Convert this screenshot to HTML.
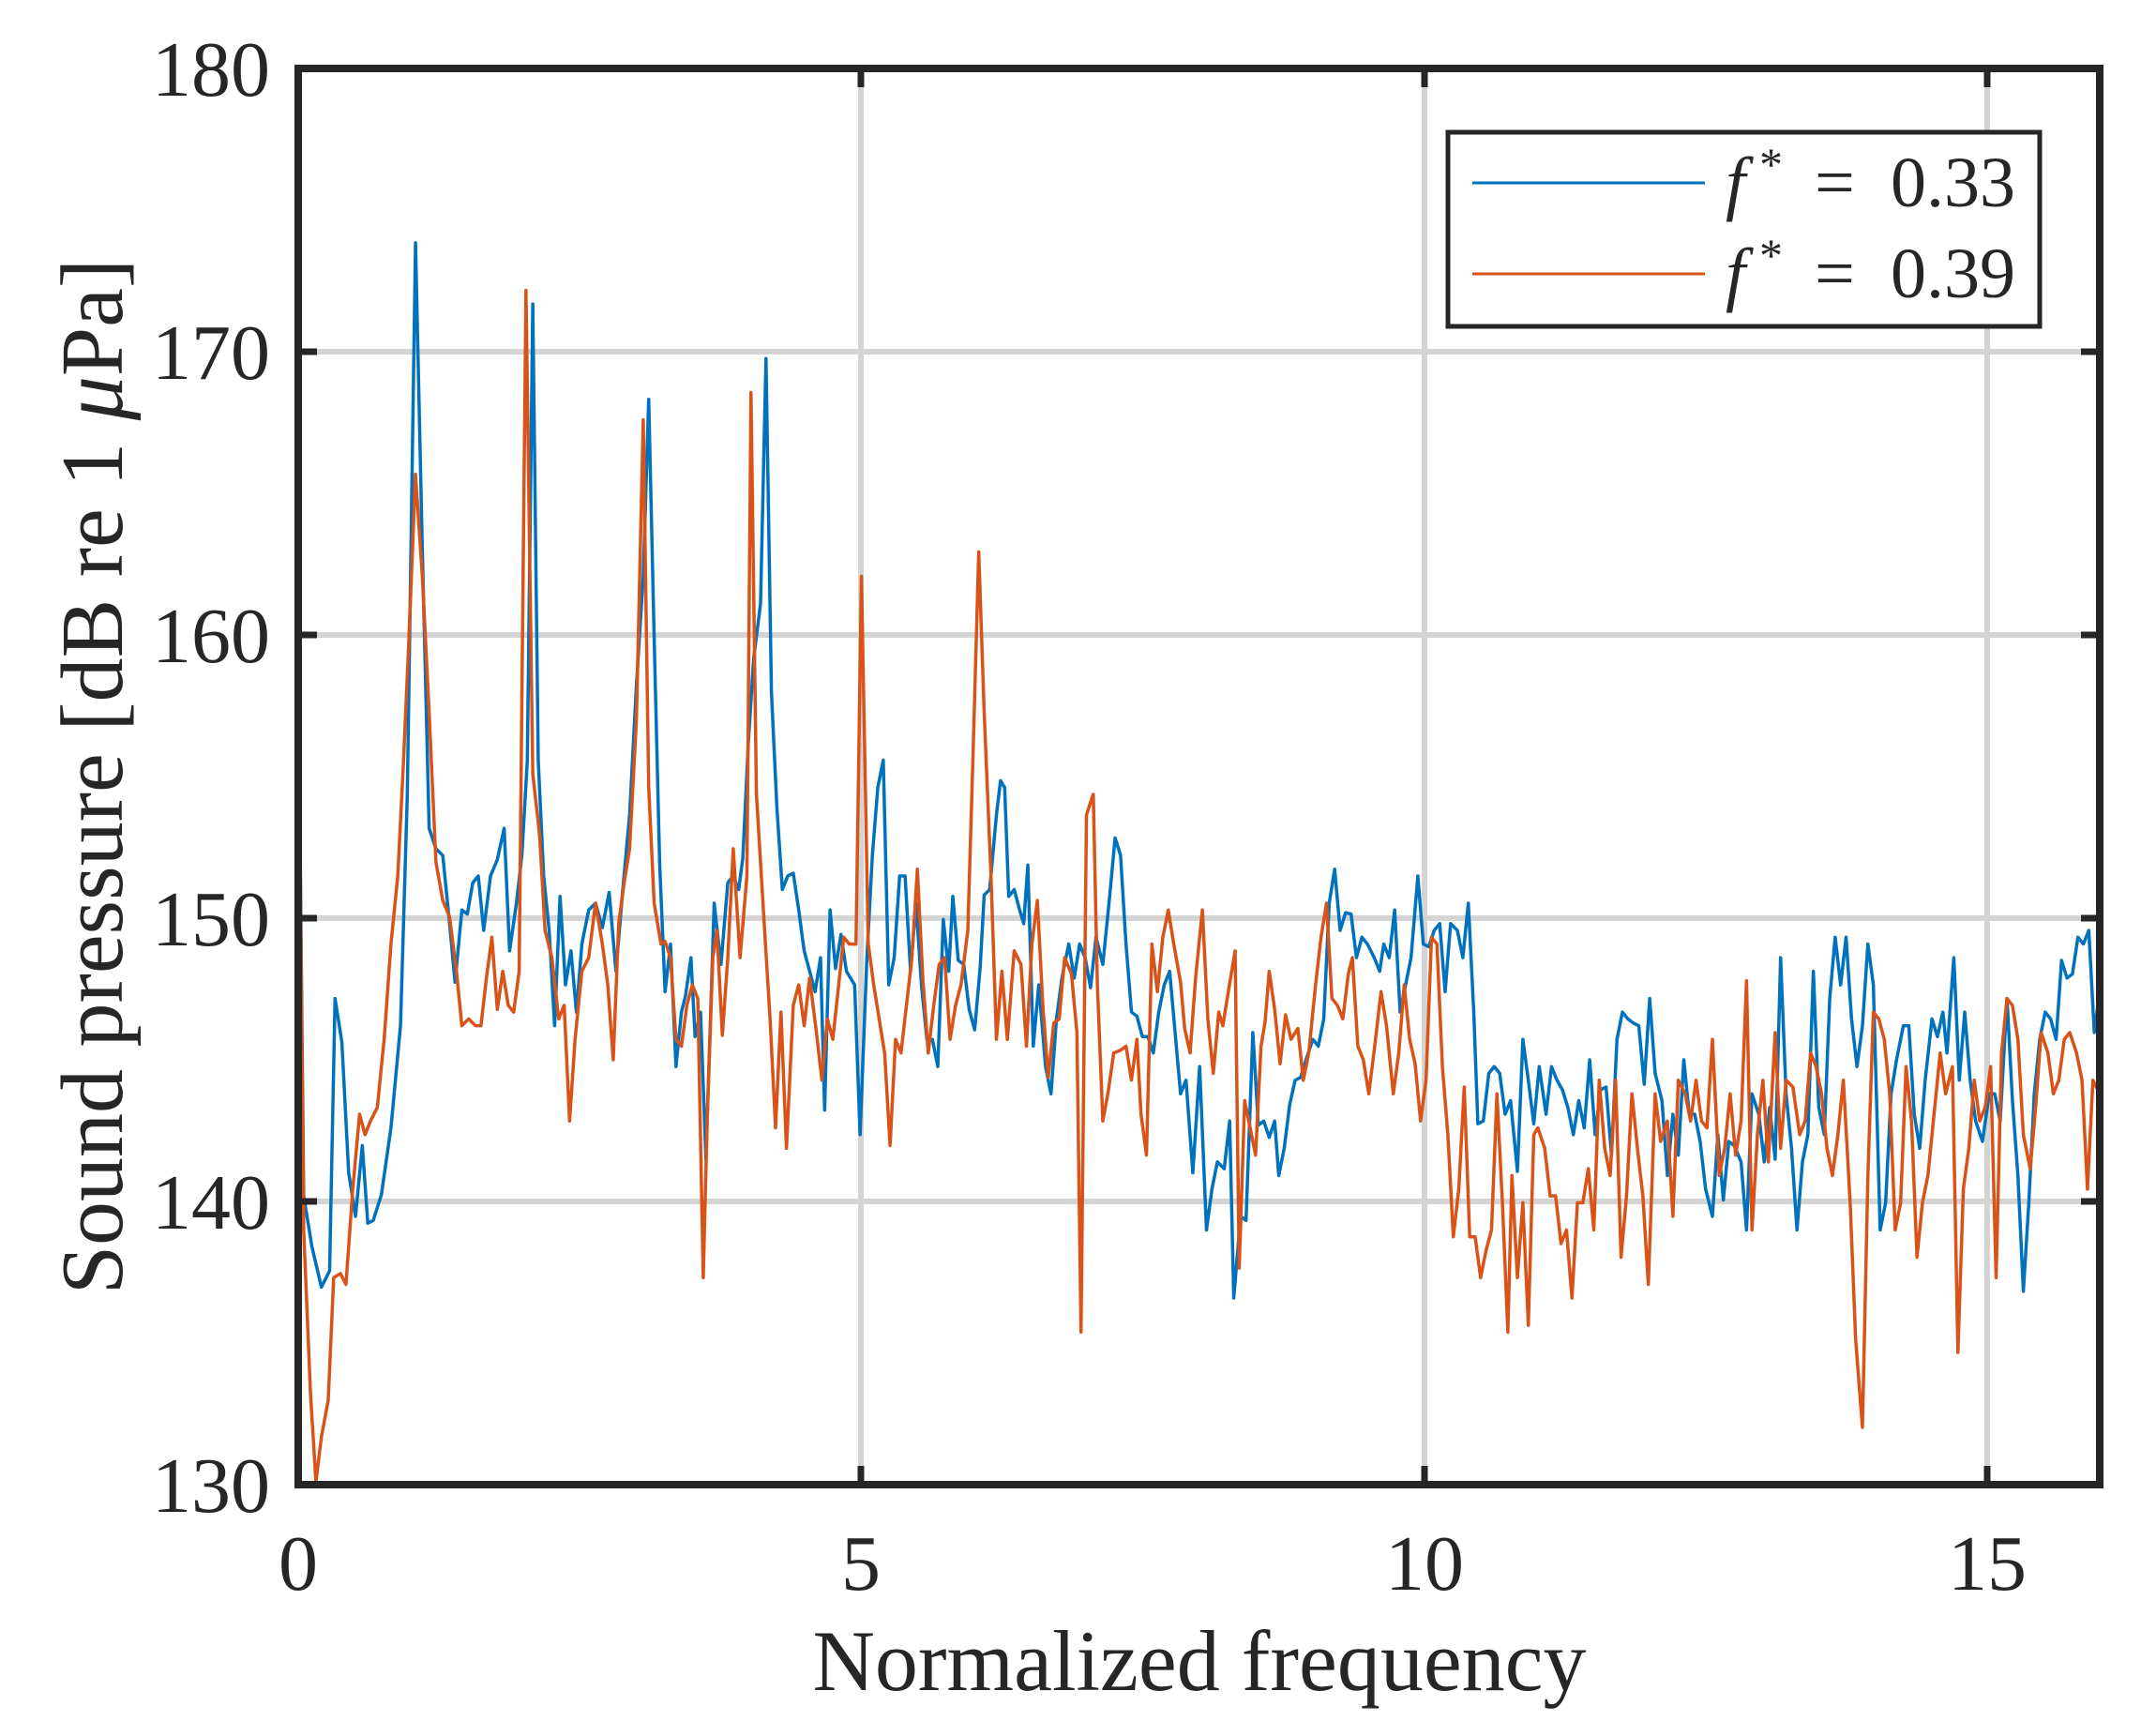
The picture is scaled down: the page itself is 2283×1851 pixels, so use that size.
<!DOCTYPE html>
<html><head><meta charset="utf-8"><style>
html,body{margin:0;padding:0;background:#fff;}
svg{display:block;}
text{font-family:"Liberation Serif","DejaVu Serif",serif;fill:#262626;}
</style></head><body>
<svg width="2283" height="1851" viewBox="0 0 2283 1851" xmlns="http://www.w3.org/2000/svg">
<rect width="2283" height="1851" fill="#fff"/>
<g stroke="#d4d4d4" stroke-width="6">
<line x1="918" y1="73" x2="918" y2="1583"/>
<line x1="1519" y1="73" x2="1519" y2="1583"/>
<line x1="2119" y1="73" x2="2119" y2="1583"/>
<line x1="318" y1="375" x2="2239" y2="375"/>
<line x1="318" y1="677" x2="2239" y2="677"/>
<line x1="318" y1="979" x2="2239" y2="979"/>
<line x1="318" y1="1281" x2="2239" y2="1281"/>
</g>
<g transform="translate(318,73) scale(1.4542,1.4519) translate(-217,-47)" fill="none" stroke-linejoin="round">
<polyline vector-effect="non-scaling-stroke" stroke="#0072bd" stroke-width="3.5" points="217,475 221,875 227,912 234,942 240,930 244,730 249,762 254,858 259,890 264,838 268,895 272,893 278,874 285,825 292,750 297,580 303,175 308,400 313,605 318,620 323,625 328,675 332,718 337,665 341,668 345,645 349,640 353,680 358,640 363,628 368,605 372,695 377,660 381,625 385,555 389,220 393,555 397,640 401,680 405,750 409,655 413,720 417,695 421,740 425,690 430,665 435,660 440,678 445,652 450,710 455,650 460,595 465,500 470,420 474,290 478,465 482,630 486,725 490,690 494,780 498,740 501,728 505,700 508,758 512,740 516,848 522,660 527,705 532,645 536,640 540,650 543,627 547,543 551,480 556,440 560,260 564,505 568,590 572,650 576,640 580,638 584,665 588,695 592,710 596,725 600,700 603,812 607,665 611,708 615,683 619,710 625,720 629,830 634,700 638,625 642,575 646,555 650,720 654,700 658,640 662,640 666,710 670,660 674,720 678,760 682,760 686,780 690,672 694,710 697,655 701,702 705,705 709,738 713,753 717,708 720,654 724,650 729,595 732,570 735,575 738,655 742,650 746,665 749,675 752,632 756,765 760,720 765,780 769,800 773,745 777,715 782,690 786,715 790,690 794,700 798,722 802,685 807,705 812,655 816,612 820,625 824,690 828,740 832,743 836,758 840,758 844,770 848,740 852,720 856,710 860,755 864,800 868,790 873,858 878,780 883,900 887,870 891,850 896,855 900,820 903,950 908,890 912,893 917,755 921,823 925,820 929,832 933,820 936,860 940,840 944,808 948,790 952,788 956,775 961,760 965,765 969,745 973,660 977,635 981,680 985,667 989,668 993,700 997,685 1001,690 1006,700 1010,710 1013,690 1017,700 1021,665 1025,740 1029,720 1033,700 1038,640 1042,690 1046,692 1050,680 1054,675 1058,725 1062,675 1067,680 1071,700 1075,660 1079,740 1082,822 1086,820 1090,785 1094,780 1098,785 1102,815 1106,805 1111,857 1115,760 1119,790 1123,822 1127,780 1132,815 1136,780 1140,790 1144,797 1148,810 1152,830 1156,805 1160,825 1164,775 1168,830 1172,797 1176,795 1180,845 1184,760 1188,740 1192,745 1196,748 1200,750 1204,793 1208,730 1212,785 1217,805 1221,860 1225,815 1229,845 1233,775 1237,815 1241,815 1245,835 1249,870 1254,890 1258,830 1262,878 1266,835 1270,838 1275,850 1279,900 1283,800 1288,815 1292,850 1296,810 1300,848 1304,700 1308,800 1312,840 1316,900 1320,850 1324,830 1328,710 1332,810 1336,830 1340,730 1344,685 1348,720 1352,685 1356,745 1360,780 1364,750 1368,690 1372,720 1377,900 1381,880 1385,800 1389,775 1394,750 1398,750 1402,815 1406,840 1410,790 1415,745 1419,758 1423,740 1426,770 1431,700 1435,790 1439,740 1443,790 1447,820 1452,835 1457,800 1461,800 1465,820 1470,730 1474,805 1478,860 1482,945 1486,880 1490,800 1494,760 1498,740 1502,745 1506,760 1510,702 1514,715 1518,712 1522,685 1526,690 1530,680 1534,755 1538,725"/>
<polyline vector-effect="non-scaling-stroke" stroke="#d95319" stroke-width="3.5" points="217,480 221,900 226,1020 230,1085 234,1052 239,1025 243,935 248,932 252,940 257,870 262,815 266,830 270,820 275,810 280,760 285,690 290,640 294,560 298,470 303,345 308,420 313,520 318,630 323,658 328,670 333,710 337,750 342,745 347,750 351,750 355,715 359,685 363,738 367,710 371,735 375,740 379,710 384,210 389,565 394,610 398,680 403,700 408,745 412,735 416,820 420,760 425,710 430,700 435,660 440,690 444,720 448,775 452,675 456,645 460,620 465,525 470,305 474,575 478,660 483,690 486,688 490,700 494,760 498,765 502,735 506,720 510,730 514,935 517,815 521,700 524,680 528,757 532,700 536,620 541,700 546,640 549,285 553,580 559,680 563,745 567,825 571,740 575,840 580,735 584,720 588,750 592,715 597,755 601,790 605,745 609,760 613,723 617,685 621,690 626,690 630,420 635,690 639,720 643,745 647,770 651,838 655,760 659,770 663,735 667,700 671,635 675,715 679,770 683,735 687,705 691,700 695,760 699,735 703,720 708,680 712,545 716,402 720,520 725,640 729,760 733,710 737,760 742,695 747,705 751,765 755,690 759,658 763,735 767,788 771,748 775,745 779,700 784,712 788,755 791,975 795,595 800,580 803,720 807,820 811,798 815,770 820,768 824,765 828,790 832,760 835,815 839,845 843,690 847,725 851,685 855,665 859,690 864,718 867,752 871,770 875,715 880,665 884,745 888,785 892,740 895,750 899,725 904,695 907,928 911,805 915,825 919,845 923,765 926,747 929,710 933,738 937,778 941,742 945,760 950,752 954,790 958,770 963,720 967,685 971,660 975,730 979,735 983,745 987,712 990,700 994,765 998,775 1002,800 1006,768 1011,725 1015,750 1020,800 1024,770 1028,720 1032,760 1036,778 1040,820 1044,790 1048,685 1052,690 1056,780 1060,830 1064,905 1068,870 1072,795 1076,905 1080,905 1084,935 1088,915 1092,900 1096,800 1100,880 1104,975 1107,860 1111,935 1115,880 1119,970 1123,830 1126,825 1131,840 1135,875 1139,875 1143,910 1147,900 1151,950 1155,880 1159,880 1163,855 1167,900 1171,790 1175,840 1179,860 1183,790 1187,920 1191,875 1195,800 1199,840 1203,875 1207,940 1212,800 1216,835 1221,820 1225,890 1229,790 1234,800 1238,820 1242,790 1246,820 1250,825 1254,760 1259,860 1263,840 1267,800 1271,845 1275,820 1279,717 1283,900 1287,830 1291,790 1295,850 1300,755 1304,840 1308,790 1313,795 1318,830 1322,820 1326,770 1330,780 1334,800 1338,840 1342,860 1346,830 1350,790 1355,880 1359,980 1364,1045 1368,860 1372,740 1376,745 1380,760 1384,800 1388,900 1392,880 1396,780 1400,820 1404,920 1408,880 1412,860 1416,820 1421,770 1425,800 1430,780 1434,990 1438,870 1442,840 1446,790 1450,820 1454,810 1458,780 1462,935 1466,770 1470,730 1474,735 1478,760 1482,830 1487,855 1491,810 1495,755 1500,770 1504,800 1508,790 1512,760 1516,755 1521,770 1525,790 1529,870 1533,790 1538,800"/>
</g>
<g stroke="#262626" stroke-width="7">
<line x1="918" y1="1583" x2="918" y2="1563"/><line x1="1519" y1="1583" x2="1519" y2="1563"/><line x1="2119" y1="1583" x2="2119" y2="1563"/>
<line x1="918" y1="73" x2="918" y2="93"/><line x1="1519" y1="73" x2="1519" y2="93"/><line x1="2119" y1="73" x2="2119" y2="93"/>
<line x1="318" y1="375" x2="338" y2="375"/><line x1="318" y1="677" x2="338" y2="677"/><line x1="318" y1="979" x2="338" y2="979"/><line x1="318" y1="1281" x2="338" y2="1281"/>
<line x1="2239" y1="375" x2="2219" y2="375"/><line x1="2239" y1="677" x2="2219" y2="677"/><line x1="2239" y1="979" x2="2219" y2="979"/><line x1="2239" y1="1281" x2="2219" y2="1281"/>
</g>
<rect x="318" y="73" width="1921" height="1510" fill="none" stroke="#262626" stroke-width="8"/>
<g font-size="84" text-anchor="end">
<text x="288" y="102">180</text><text x="288" y="404">170</text><text x="288" y="706">160</text><text x="288" y="1008">150</text><text x="288" y="1310">140</text><text x="288" y="1612">130</text>
</g>
<g font-size="84" text-anchor="middle">
<text x="318" y="1695">0</text><text x="918" y="1695">5</text><text x="1519" y="1695">10</text><text x="2119" y="1695">15</text>
</g>
<text x="1279" y="1802" font-size="92" text-anchor="middle">Normalized frequency</text>
<text transform="translate(130,828) rotate(-90)" font-size="94" text-anchor="middle">Sound pressure [dB re 1 <tspan font-style="italic">μ</tspan>Pa]</text>
<rect x="1544" y="141" width="631" height="207" fill="#fff" stroke="#262626" stroke-width="5"/>
<line x1="1570" y1="195" x2="1818" y2="195" stroke="#0072bd" stroke-width="3"/>
<line x1="1570" y1="292" x2="1818" y2="292" stroke="#d95319" stroke-width="3"/>
<g font-size="76">
<text x="1840" y="220" font-style="italic">f</text><text x="1876" y="192" font-size="50">*</text><text x="1935" y="220">=</text><text x="2016" y="220">0.33</text>
<text x="1840" y="317" font-style="italic">f</text><text x="1876" y="289" font-size="50">*</text><text x="1935" y="317">=</text><text x="2016" y="317">0.39</text>
</g>
</svg>
</body></html>
